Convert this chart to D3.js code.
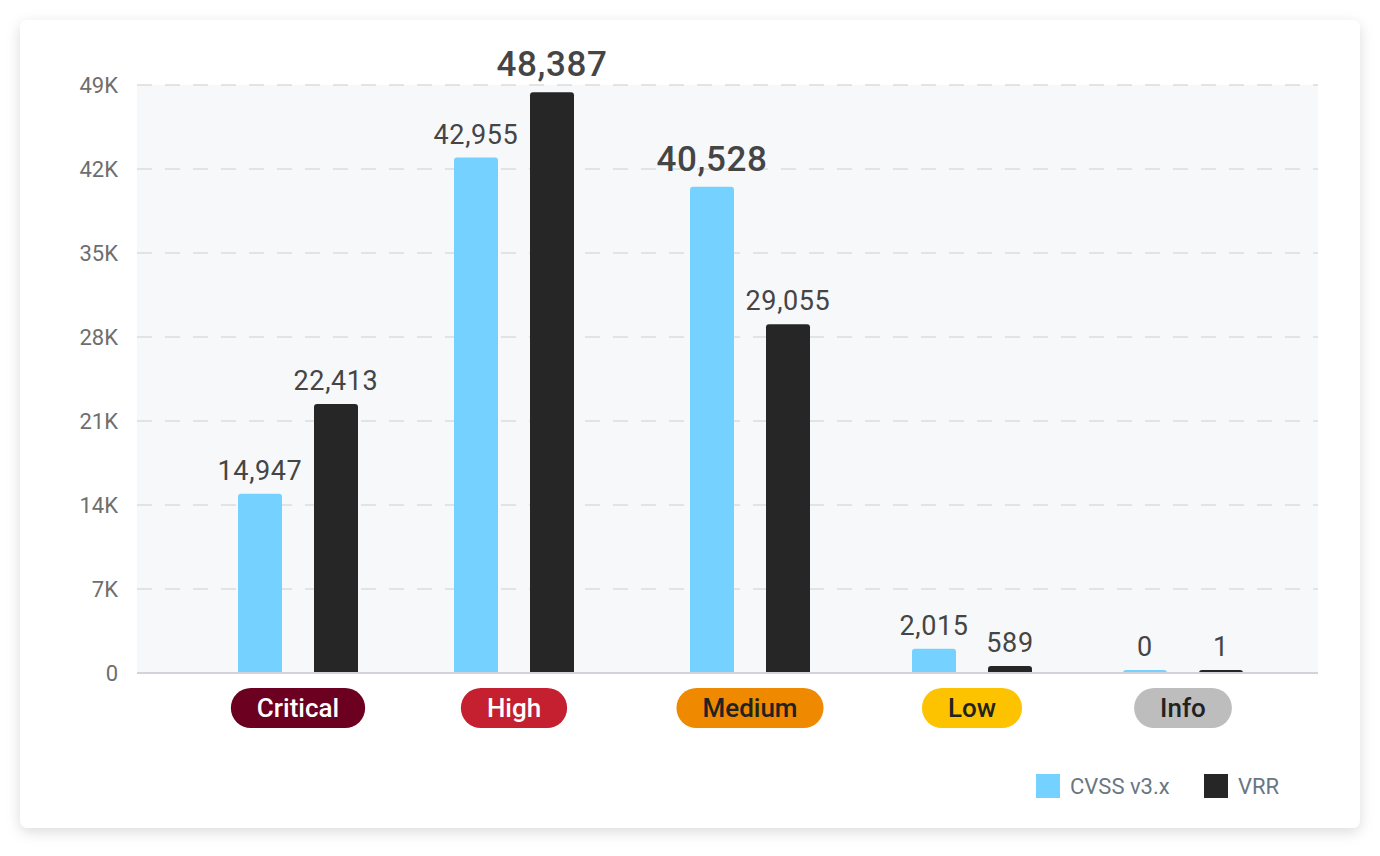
<!DOCTYPE html>
<html lang="en">
  <head>
    <meta charset="utf-8" />
    <title>Severity distribution</title>
    <script type="text/javascript" src="https://cdn.jsdelivr.net/npm/d3@7"></script>
    <style type="text/css">
      body { margin: 0; background: #fff; font-family: Roboto, "Noto Sans", sans-serif; }
    </style>
  </head>
  <body>
    <script type="text/javascript">
      var categories = ["Critical", "High", "Medium", "Low", "Info"];
      var series = ["CVSS v3.x", "VRR"];
      var cvssValues = [14947, 42955, 40528, 2015, 0];
      var vrrValues = [22413, 48387, 29055, 589, 1];
      var yTicks = [0, 7000, 14000, 21000, 28000, 35000, 42000, 49000];

      var w = 1380;
      var h = 856;
      var plot = { left: 137, right: 1318, top: 85, bottom: 673 };
      var groupCenters = [298, 514, 750, 972, 1183];
      var barWidth = 44;
      var minBar = 3;

      var seriesColors = ["#75d1ff", "#262626"];
      var pillColors = ["#6c0020", "#c4202f", "#ef8a00", "#fdc300", "#bdbdbd"];
      var pillText = ["#fff", "#fff", "#222", "#222", "#222"];
      // labels drawn bigger in the original
      var bigLabels = { "VRR-High": true, "CVSS v3.x-Medium": true };

      var svg = d3.select("body").append("svg").attr("width", w).attr("height", h);

      var defs = svg.append("defs");
      var f = defs.append("filter").attr("id", "shadow")
        .attr("x", "-5%").attr("y", "-5%").attr("width", "110%").attr("height", "115%");
      f.append("feDropShadow").attr("dx", 0).attr("dy", 4)
        .attr("stdDeviation", 7).attr("flood-color", "#000").attr("flood-opacity", 0.14);

      svg.append("rect")
        .attr("x", 20).attr("y", 20).attr("width", 1340).attr("height", 808)
        .attr("rx", 8).attr("fill", "#fff").attr("filter", "url(#shadow)");

      var x = d3.scaleOrdinal().domain(categories).range(groupCenters);
      var xSub = d3.scalePoint().domain(series).range([-38, 38]);
      var y = d3.scaleLinear().domain([0, 49000]).range([plot.bottom, plot.top]);

      svg.append("rect")
        .attr("x", plot.left).attr("y", plot.top)
        .attr("width", plot.right - plot.left).attr("height", plot.bottom - plot.top)
        .attr("fill", "#f7f8fa");

      // grid
      svg.selectAll("line.grid")
        .data(yTicks.filter(function (d) { return d > 0; }))
        .enter()
        .append("line")
        .attr("class", "grid")
        .attr("x1", plot.left).attr("x2", plot.right)
        .attr("y1", function (d) { return y(d); })
        .attr("y2", function (d) { return y(d); })
        .attr("stroke", "#dcdcdc")
        .attr("stroke-width", 1.5)
        .attr("stroke-dasharray", "15,13");

      var yAxis = d3.axisLeft(y)
        .tickValues(yTicks)
        .tickSize(0)
        .tickPadding(0)
        .tickFormat(function (d) { return d === 0 ? "0" : d / 1000 + "K"; });

      var gy = svg.append("g").attr("transform", "translate(118,0)").call(yAxis);
      gy.select(".domain").remove();
      gy.selectAll("text")
        .attr("font-family", "Roboto")
        .attr("font-size", "22px")
        .attr("fill", "#6e6e6e")
        .attr("dy", "0.35em");

      var rows = [];
      categories.forEach(function (c, i) {
        rows.push({ cat: c, s: series[0], v: cvssValues[i] });
        rows.push({ cat: c, s: series[1], v: vrrValues[i] });
      });

      function barTop(d) {
        return Math.min(y(d.v), plot.bottom - minBar);
      }

      function barPath(d) {
        var x0 = x(d.cat) + xSub(d.s) - barWidth / 2;
        var top = barTop(d);
        var hh = plot.bottom - top;
        var r = Math.min(3, hh);
        return "M" + x0 + "," + plot.bottom +
          "V" + (top + r) +
          "Q" + x0 + "," + top + " " + (x0 + r) + "," + top +
          "H" + (x0 + barWidth - r) +
          "Q" + (x0 + barWidth) + "," + top + " " + (x0 + barWidth) + "," + (top + r) +
          "V" + plot.bottom + "Z";
      }

      svg.selectAll("path.bar")
        .data(rows)
        .enter()
        .append("path")
        .attr("class", "bar")
        .attr("d", barPath)
        .attr("fill", function (d) { return seriesColors[series.indexOf(d.s)]; });

      svg.append("line")
        .attr("x1", plot.left).attr("x2", plot.right)
        .attr("y1", plot.bottom).attr("y2", plot.bottom)
        .attr("stroke", "#d3d3db").attr("stroke-width", 2);

      svg.selectAll("text.val")
        .data(rows)
        .enter()
        .append("text")
        .attr("class", "val")
        .text(function (d) { return d3.format(",")(d.v); })
        .attr("x", function (d) { return x(d.cat) + xSub(d.s); })
        .attr("y", function (d) {
          return barTop(d) - (bigLabels[d.s + "-" + d.cat] ? 16 : 14);
        })
        .attr("text-anchor", "middle")
        .attr("font-family", "Roboto")
        .attr("font-weight", function (d) { return bigLabels[d.s + "-" + d.cat] ? 500 : 400; })
        .attr("letter-spacing", "0.6px")
        .attr("font-size", function (d) { return bigLabels[d.s + "-" + d.cat] ? "35px" : "27px"; })
        .attr("fill", "#454545");

      // category pills
      var pills = svg.selectAll("g.pill")
        .data(categories)
        .enter()
        .append("g")
        .attr("class", "pill")
        .attr("transform", function (d) { return "translate(" + x(d) + ",708)"; });

      var pillRects = pills.append("rect")
        .attr("y", -20).attr("height", 40).attr("rx", 20)
        .attr("fill", function (d, i) { return pillColors[i]; });

      pills.append("text")
        .text(function (d) { return d; })
        .attr("text-anchor", "middle")
        .attr("dy", "0.36em")
        .attr("font-family", "Roboto")
        .attr("font-weight", 500)
        .attr("font-size", "26px")
        .attr("fill", function (d, i) { return pillText[i]; })
        .each(function (d, i) {
          var tw = this.getComputedTextLength() + 52;
          d3.select(pillRects.nodes()[i]).attr("x", -tw / 2).attr("width", tw);
        });

      // legend
      var legendX = [1036, 1204];
      var legend = svg.selectAll("g.legend")
        .data(series)
        .enter()
        .append("g")
        .attr("class", "legend")
        .attr("transform", function (d, i) { return "translate(" + legendX[i] + ",774)"; });

      legend.append("rect")
        .attr("width", 24).attr("height", 24)
        .attr("fill", function (d, i) { return seriesColors[i]; });

      legend.append("text")
        .text(function (d) { return d; })
        .attr("x", 34).attr("y", 20)
        .attr("font-family", "Roboto")
        .attr("font-size", "22px")
        .attr("fill", "#6a7682");
    </script>
  </body>
</html>
